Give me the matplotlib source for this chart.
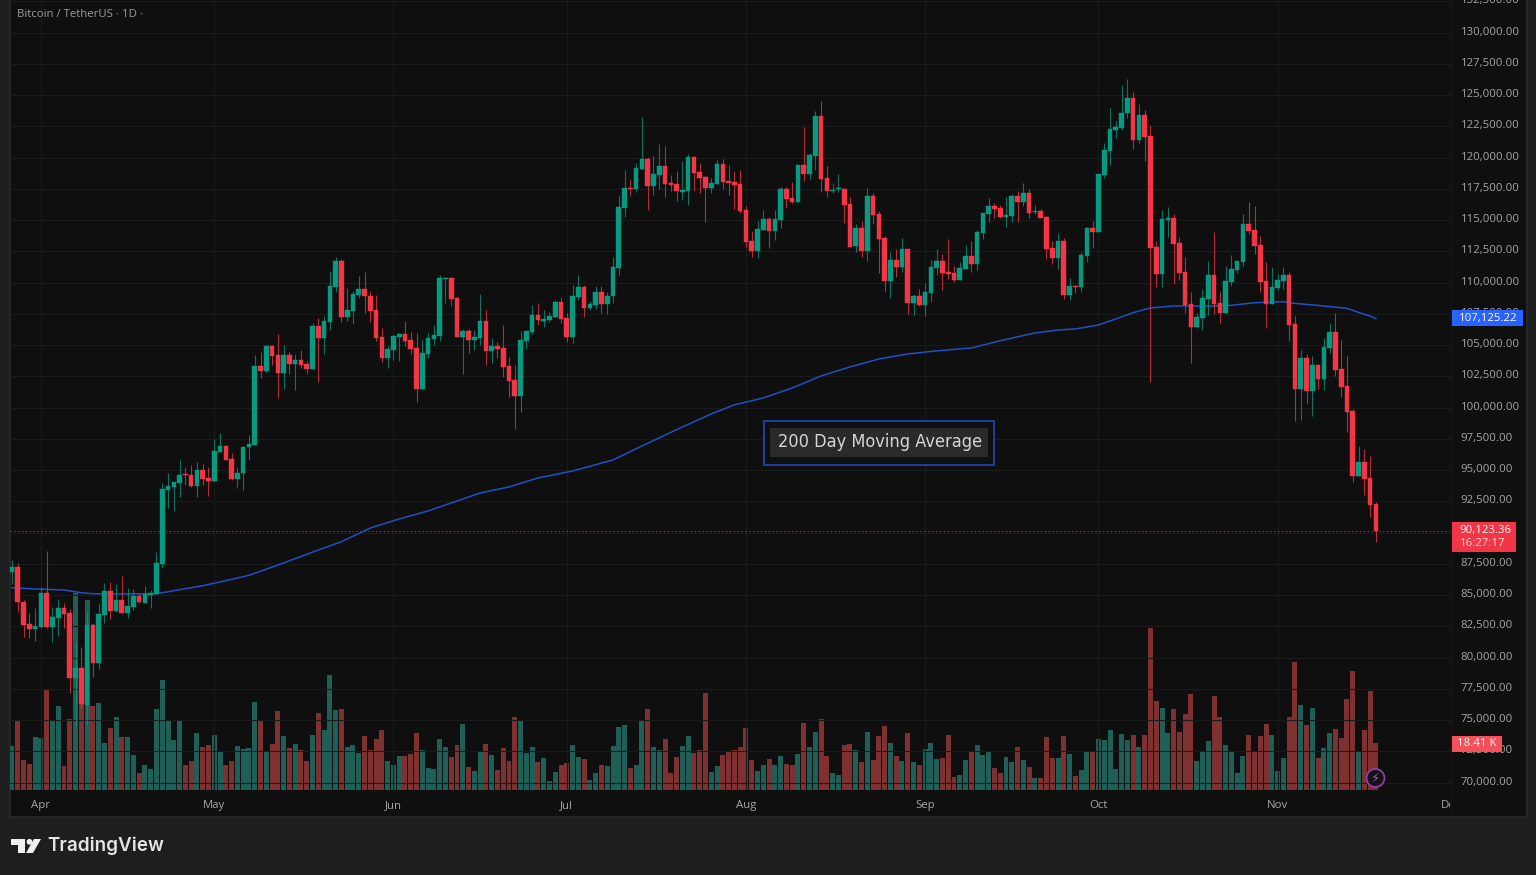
import matplotlib
matplotlib.use('Agg')
import matplotlib.pyplot as plt
from matplotlib.patches import Rectangle, Circle, Polygon
from matplotlib.transforms import ScaledTranslation, Bbox

opens = [86880,87250,84470,82720,82320,82480,85170,82480,83170,83940,
83570,78400,79170,76210,82610,79570,83410,85300,83730,84610,
83570,84020,84930,84400,85040,85090,87490,93410,93680,94000,
94690,94640,93730,95010,94340,94130,96480,96960,95890,94260,
94740,96820,97010,103330,102960,104900,104210,102740,104210,103490,
103810,103490,103120,106530,105600,106820,109680,111760,107280,107730,
108990,109490,108960,107810,105650,103970,104580,105650,105890,105410,
104740,101490,104260,105490,105730,110290,110370,108740,105650,106130,
105410,105570,106900,104500,104960,104740,103360,102210,100960,105330,
106050,107440,106960,107040,107280,108420,107200,105650,108820,109650,
107970,108210,109280,108290,108900,111200,116000,117600,117460,119060,
119890,117760,118610,119300,117970,117890,117280,117360,120050,118820,
118450,117600,117920,119520,118130,118050,117890,115810,113360,112530,
114210,115120,114160,115010,117520,116740,116450,119380,118690,120130,
123360,118370,117360,117460,117520,116290,112930,114370,112530,116960,
115490,113570,110130,111810,111280,112690,108370,108900,108210,109200,
111200,111730,110850,110740,110210,111120,112130,111520,113970,115520,
116120,115970,115280,115360,116900,116450,117140,115620,115730,115280,
112740,112000,113360,108980,109760,109620,112130,114370,114050,118610,
120530,122210,122370,123540,124770,121380,123380,121760,112820,110690,
114980,115200,113140,110820,108260,106420,107170,108660,110580,108340,
107600,110050,110980,111650,114660,114210,112980,110130,108290,109570,
110130,110610,106660,101490,103970,101330,103440,102260,104740,106050,
103120,101730,99730,94550,95650,94340,92260]

closes = [87250,84420,82630,82320,82560,85170,82480,83250,83940,83490,
78400,79170,76290,82610,79570,83490,85300,83760,84610,83570,
84100,84930,84420,85090,85170,87540,93490,93700,94020,94640,
94580,93730,95010,94260,94130,96560,96960,95810,94260,94800,
96880,97090,103330,102960,104900,104130,102740,104210,103490,103810,
103410,103120,106530,105600,106900,109730,111730,107280,107810,109070,
109490,108900,107730,105570,103970,104660,105730,105890,105330,104660,
101490,104340,105570,105810,110370,110370,108660,105650,106130,105410,
105650,106900,104500,104960,104660,103250,102130,100960,105410,106130,
107440,106980,107120,107360,108420,107120,105650,108900,109650,107970,
108290,109280,108290,108960,111280,116050,117570,117460,119150,119890,
117760,118690,119300,117920,117810,117300,117440,120050,118770,118370,
117600,117970,119520,118080,118000,117810,115760,113280,112530,114260,
115120,114160,115060,117520,116690,116450,119380,118690,120210,123360,
118290,117360,117440,117540,116210,112880,114370,112530,116960,115430,
113520,110130,111810,111280,112690,108370,108900,108210,109280,111280,
111730,110740,110720,110210,111200,112130,111520,114050,115600,116120,
115920,115280,115430,116900,116450,117140,115600,115730,115200,112690,
112000,113360,108980,109760,109620,112210,114370,114050,118690,120610,
122290,122450,123600,124770,121380,123380,121680,112740,110690,115060,
115200,113060,110740,108180,106420,107250,108740,110580,108290,107600,
110110,111060,111730,114660,114160,112930,110050,108290,109650,110210,
110610,106580,101490,103970,101330,103440,102260,104820,106050,103040,
101650,99650,94550,95650,94260,92180,90123.36]

highs = [87810,87540,84610,83570,83940,85620,88560,84020,84720,84340,
83860,81250,80850,83650,82800,84340,85940,86080,85890,86560,
85540,85490,85140,85730,85410,88480,93940,94740,94080,95810,
95280,95410,95620,95490,95280,97490,97940,97010,96340,95280,
96930,97810,104210,104420,105040,105040,105890,105040,104420,104290,
104610,103760,106800,107200,107360,110930,112080,111890,109600,109360,
110530,110820,109360,108990,106370,104960,105780,105970,106900,106050,
105970,105410,105970,106610,110580,110450,110420,108880,106320,106260,
106210,109060,107810,105600,105280,106610,104050,103410,106130,106130,
108210,108370,107810,107650,108580,108820,107540,109810,110580,109810,
108530,109730,109730,109280,112020,117010,119010,118290,119600,123280,
120020,120160,121060,120930,118610,118930,119730,120290,120130,119540,
118530,118340,119810,119890,119380,118930,118980,116130,114130,114900,
115810,115280,115810,117680,117620,118050,119380,122420,120340,123760,
124530,119300,117970,118690,117600,116820,114660,114900,117540,117140,
115730,113730,112420,112690,113600,112690,109010,109460,109970,111810,
112690,112290,113460,111360,111680,112980,113330,114210,115600,116740,
116340,116180,116820,117060,117360,117940,117520,116210,115890,115360,
113330,113970,113600,110370,109810,112450,114420,114930,118690,121140,
123990,122930,125840,126290,125220,124290,123840,122610,113330,115810,
116050,115490,113680,112050,109250,107540,109490,111730,114020,109220,
111360,112180,111730,115520,116420,116130,113730,111650,111280,110690,
111280,110820,107360,104610,104290,104130,103440,105540,106740,107570,
105410,104130,99860,96900,96660,96130,92450]

lows = [85890,83650,81620,81540,81360,82480,82340,81280,81730,82400,
77200,74530,75930,74610,78480,79060,82800,83090,83680,83570,
83200,83810,84340,84400,84000,85090,87140,91970,91760,92880,
93810,93680,92880,93810,92960,94130,96480,95810,94210,93570,
93410,95810,97010,102340,102880,103410,100800,101490,102660,101410,
103200,102660,103120,102050,104260,106210,109280,106880,106960,106660,
108740,107600,106820,105360,103650,103130,103810,103760,104960,104260,
100420,101490,104000,105010,105330,108400,108130,105650,102720,104340,
104610,105010,103410,103570,103970,102420,100880,98260,99680,104660,
105890,106640,106420,106880,107220,106800,105250,105200,108610,107280,
107810,107890,107600,107520,108370,110580,115280,116960,117280,119060,
115810,117010,117490,116880,117360,116530,116610,116210,117360,117200,
114820,117200,117920,117520,117040,115890,115600,112820,112080,112000,
114210,112740,113410,114370,115970,116400,116450,118130,118290,118980,
117280,116880,117170,117280,114740,112880,112450,112080,111760,114690,
110740,109360,108740,110480,110880,107490,107410,108160,107330,108450,
110610,109410,110290,110050,110210,111120,110820,110980,113490,114820,
115200,115200,114480,114820,114820,116160,115200,115460,115200,111920,
111520,111120,108660,108610,109140,109280,111650,112740,114050,118370,
119380,121540,122210,123140,120690,121140,119760,102070,109680,109680,
113680,109890,110210,107540,103600,106340,106210,107410,107490,106740,
107600,109730,110740,111330,113890,112290,109280,106370,108290,109410,
109490,105330,98960,99010,100340,99330,101460,101410,104340,102530,
100880,98050,94020,94550,93010,91220,89280]

# volume in thousands of BTC
volumes = [17.4,27.2,11.7,10.3,20.8,20.4,39.8,27.2,33.0,9.5,
28.0,77.7,33.8,75.0,33.3,34.5,18.5,24.6,28.8,20.8,
20.8,13.9,6.7,9.9,8.3,31.8,43.5,27.2,19.7,27.6,
9.9,11.3,22.4,17.0,17.8,21.6,15.1,9.9,11.3,17.4,
16.2,16.6,34.8,27.6,15.4,18.1,31.0,21.2,16.6,18.1,
15.8,11.3,21.6,30.2,23.8,45.5,31.4,31.8,17.0,17.8,
14.7,21.2,15.8,20.0,23.8,11.3,9.9,13.5,13.5,14.3,
22.4,15.8,8.7,8.3,20.0,17.0,13.2,17.8,26.0,9.1,
7.5,15.1,18.1,13.9,7.9,16.6,11.3,28.8,27.6,14.7,
17.0,10.9,12.5,3.7,7.1,9.9,10.7,17.8,13.2,12.1,
4.1,6.7,9.9,9.5,17.4,25.0,25.6,8.7,9.9,27.2,
31.8,17.0,15.8,20.0,6.7,13.2,17.4,21.2,14.7,15.8,
38.3,7.1,9.5,13.9,15.1,15.8,17.0,24.6,11.7,7.5,
9.9,12.1,9.9,13.5,10.3,9.9,14.3,26.4,17.0,23.0,
28.0,13.5,6.7,5.9,17.8,18.1,15.8,10.9,23.0,11.7,
21.2,25.2,18.5,13.5,11.3,22.6,10.9,9.9,16.2,18.5,
12.1,12.5,21.6,5.3,5.9,11.7,15.4,17.8,13.9,15.4,
8.7,6.7,13.2,10.9,17.0,11.7,9.1,4.9,4.9,20.8,
12.5,12.5,21.2,14.3,5.5,7.9,15.4,15.1,20.0,19.6,
23.8,8.3,22.0,19.6,21.6,17.0,21.6,63.8,35.2,32.2,
22.6,31.8,23.0,30.0,37.9,11.3,15.4,19.2,37.1,28.8,
17.8,15.1,6.7,13.5,21.6,15.4,21.2,26.0,21.6,7.5,
12.5,28.8,50.4,33.7,25.6,32.2,12.5,16.6,22.6,24.2,
20.4,35.9,46.9,15.1,23.8,39.1,18.41]

# 200 day moving average, sampled at these bar numbers
ma_days = [0,4,9,12,14,18,25,28,33,38,41,47,53,57,62,67,72,76,81,86,91,97,
           104,109,116,121,125,130,135,140,145,150,155,160,166,171,177,181,
           184,188,190,192,194,197,201,208,211,215,220,222,227,231,233,235,236]
ma_values = [85590,85490,85410,85190,85110,85090,85110,85350,85750,86260,86580,
             87570,88610,89270,90370,91090,91730,92370,93170,93650,94370,94930,
             95810,96930,98450,99490,100220,100770,101570,102530,103250,103890,
             104290,104540,104770,105350,105970,106210,106290,106610,106930,
             107250,107600,107970,108130,108130,108180,108390,108470,108340,
             108130,107940,107620,107320,107125.22]

month_days = [5,35,66,96,127,158,188,219,249]
month_names = ['Apr','May','Jun','Jul','Aug','Sep','Oct','Nov','Dec']
price_ticks = list(range(70000, 132501, 2500))

UP = '#089981'
DOWN = '#f23645'
UP_VOL = '#1e5f58'
DOWN_VOL = '#7f3030'
PANEL = '#0f0f0f'
FRAME = '#1e1e1e'
GRID = '#1a1c1c'
LABEL = '#a6a6a6'

W, H = 1536, 875
fig = plt.figure(figsize=(W / 100, H / 100), dpi=100, facecolor=FRAME)
plt.rcParams['font.family'] = ['Open Sans', 'DejaVu Sans']

# panel background and its thin border
back = fig.add_axes([0, 0, 1, 1], zorder=-1)
back.set_xlim(0, W)
back.set_ylim(H, 0)
back.axis('off')
back.add_patch(Rectangle((9.5, -2), 1517, 819, fc=PANEL, ec='#2a2a2a', lw=1.2))
back.plot([1450.5, 1450.5], [0, 816], color='#181a1a', lw=0.8)

# price pane: x 10..1451, y 0..790 in pixels
vol_ax = fig.add_axes([10 / W, 1 - 790 / H, 1441 / W, 790 / H], zorder=1)
ax = fig.add_axes([10 / W, 1 - 790 / H, 1441 / W, 790 / H], zorder=2)
xlim = (-0.346, 249)
ylim = (69408, 132608)

for a in (ax, vol_ax):
    a.set_xlim(*xlim)
    a.patch.set_alpha(0)
    for s in a.spines.values():
        s.set_visible(False)
ax.set_ylim(*ylim)

days = list(range(len(closes)))
colors = [UP if c >= o else DOWN for o, c in zip(opens, closes)]
vol_colors = [UP_VOL if c >= o else DOWN_VOL for o, c in zip(opens, closes)]

# volume underlay, scaled so the tallest bar stays in the lower part of the pane
vol_ax.set_ylim(0, 311.6)
vol_ax.bar(days, volumes, width=0.86, color=vol_colors, linewidth=0)
vol_ax.set_xticks([])
vol_ax.set_yticks([])

for p in price_ticks:
    ax.axhline(p, color=GRID, lw=0.8, zorder=1)
for d in month_days:
    ax.axvline(d, color=GRID, lw=0.8, zorder=1)

ax.axhline(closes[-1], color=DOWN, lw=0.8, ls=(0, (1, 2.5)), alpha=0.85, zorder=2)
ax.plot(ma_days, ma_values, color='#2150c4', lw=1.1, zorder=3)

# candles
ax.vlines(days, lows, highs, colors=colors, lw=0.8, alpha=0.75, zorder=4)
bottoms = [min(o, c) for o, c in zip(opens, closes)]
heights = [abs(c - o) for o, c in zip(opens, closes)]
ax.bar(days, heights, bottom=bottoms, width=0.8, color=colors, edgecolor=colors,
       linewidth=0.3, zorder=5)

# price scale
ax.yaxis.tick_right()
ax.set_yticks(price_ticks)
ax.set_yticklabels([f'{p:,.2f}' for p in price_ticks], fontsize=8.2, color=LABEL)
ax.tick_params(axis='y', length=0, pad=7)
shift = ScaledTranslation(0, 1.5 / 72, fig.dpi_scale_trans)
for t in ax.get_yticklabels():
    t.set_transform(t.get_transform() + shift)

# time scale
ax.set_xticks(month_days)
ax.set_xticklabels(month_names, fontsize=8.2, color=LABEL)
ax.tick_params(axis='x', length=0, pad=7)
for t in ax.get_xticklabels():
    t.set_clip_on(True)
    t.set_clip_box(Bbox([[0, 0], [1450, H]]))

# overlay for tags, the note and the footer, in pixels from the top left
top = fig.add_axes([0, 0, 1, 1], zorder=5)
top.set_xlim(0, W)
top.set_ylim(H, 0)
top.axis('off')

top.text(17, 14.5, 'Bitcoin / TetherUS · 1D ·', fontsize=8.2, color='#9c9c9c', va='center')

# note box
top.add_patch(Rectangle((763.5, 420.5), 230, 44, fc=PANEL, ec='#2150c4', lw=1.1))
top.add_patch(Rectangle((770, 428), 218, 29, fc='#2a2a2a', ec='none'))
top.text(880, 442, '200 Day Moving Average', fontsize=13, color='#d6d6d6',
         family='DejaVu Sans', stretch='condensed', ha='center', va='center')

# price tags
top.add_patch(Rectangle((1452, 310), 71, 16, fc='#2962ff', ec='none'))
top.text(1488, 318, f'{ma_values[-1]:,.2f}', fontsize=8.2, color='white', ha='center', va='center')

top.add_patch(Rectangle((1452, 522), 64, 30, fc=DOWN, ec='none'))
top.text(1485.5, 530.5, f'{closes[-1]:,.2f}', fontsize=8.2, color='white', ha='center', va='center')
top.text(1483, 544, '16:27:17', fontsize=8.2, color='#ffd9dc', ha='center', va='center')

top.add_patch(Rectangle((1452, 736), 50, 16, fc='#f4505a', ec='none'))
top.text(1477, 744, f'{volumes[-1]:.2f} K', fontsize=8.2, color='white', ha='center', va='center')

# replay badge by the last bar
top.add_patch(Circle((1375.5, 778), 9, fc='#141216', ec='#8e3fa6', lw=1.3))
top.text(1375.5, 778, '⚡', fontsize=9.5, color='#a45cc0', family='DejaVu Sans',
         ha='center', va='center')

# footer logo
top.add_patch(Polygon([(11, 839), (25, 839), (25, 853), (18, 853), (18, 845), (11, 845)],
                      fc='#f0f0f0', ec='none'))
top.add_patch(Circle((29.5, 841.8), 2.9, fc='#f0f0f0', ec='none'))
top.add_patch(Polygon([(34, 839), (41, 839), (33, 853), (26, 853)], fc='#f0f0f0', ec='none'))
top.text(47, 846, 'TradingView', fontsize=13.6, color='#e4e4e4', family='Inter',
         weight='semibold', va='center')

fig.savefig('out.png', dpi=100, facecolor=FRAME)
